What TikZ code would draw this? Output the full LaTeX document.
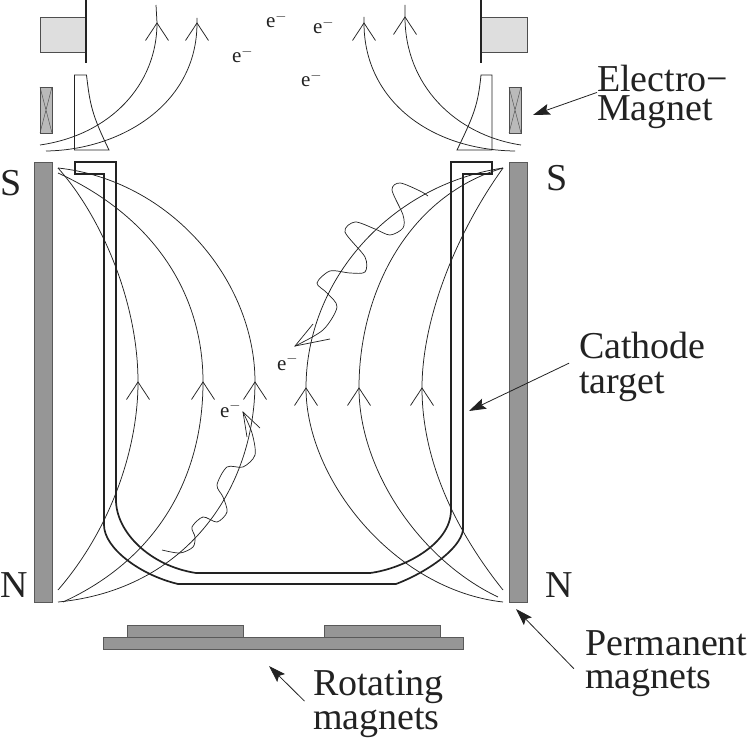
\documentclass[tikz,border=0pt]{standalone}
\usepackage{fontspec}
\setmainfont{Liberation Serif}
\usetikzlibrary{arrows.meta}
\definecolor{ink}{HTML}{222222}
\tikzset{
  magnet/.style={draw=ink!75,line width=.8pt,fill=black!41,inner sep=0,outer sep=0},
  shield/.style={draw=ink!80,line width=.8pt,fill=black!13,inner sep=0,outer sep=0},
  coil/.style={draw=ink!80,line width=.7pt,fill=black!27},
  cathode/.style={draw=ink,line width=1.7pt,line join=miter},
  field/.style={draw=ink,line width=.75pt},
  head/.style={draw=ink,line width=.75pt},
  wave/.style={draw=ink,line width=.7pt},
  bigtext/.style={text=ink,inner sep=0,outer sep=0,anchor=base west,align=left},
  echarge/.style={text=ink,inner sep=0,outer sep=0,anchor=base west,font=\fontsize{21}{24}\selectfont},
  pole/.style={text=ink,inner sep=0,outer sep=0,anchor=base west,font=\fontsize{38}{38}\selectfont},
  callout/.style={draw=ink,line width=.8pt,-{Stealth[length=17pt,width=11pt,inset=3pt]}}
}
\newcommand{\fieldhead}[2]{\draw[head] (#1-11.5,#2+17.5) -- (#1,#2) -- (#1+11.5,#2+17.5);}
\begin{document}
\begin{tikzpicture}[x=1pt,y=-1pt]
\useasboundingbox (0,0) rectangle (750,738);
% upper shields
\draw[shield] (86,17) rectangle (40,52);
\draw[shield] (481,17) rectangle (527,52);
\draw[ink,line width=1.3pt] (86,0) -- (86,63);
\draw[ink,line width=1.3pt] (481,0) -- (481,63);
% electromagnet coils
\draw[coil] (40,87) rectangle (52,133);
\draw[ink!80,line width=.45pt] (40,87) -- (52,133) (52,87) -- (40,133);
\draw[coil] (509,87) rectangle (521,133);
\draw[ink!80,line width=.45pt] (509,87) -- (521,133) (521,87) -- (509,133);
% pole pieces
\draw[ink,line width=.8pt] (74.5,150) -- (74.5,75) -- (86.5,75) .. controls (90,105) and (92,115) .. (109,150) -- cycle;
\draw[ink,line width=.8pt] (492,150) -- (492,75) -- (481,75) .. controls (478,105) and (474,115) .. (457,150) -- cycle;
% permanent magnets
\node[magnet,minimum width=18pt,minimum height=440pt] (magL) at (43,382) {};
\node[magnet,minimum width=18pt,minimum height=440pt] (magR) at (518,382) {};
% rotating magnets
\node[magnet,minimum width=360pt,minimum height=12pt] (base) at (283,643) {};
\node[magnet,minimum width=116pt,minimum height=12pt] (rotL) at (185,631) {};
\node[magnet,minimum width=116pt,minimum height=12pt] (rotR) at (382,631) {};
% cathode target
\draw[cathode] (104,174) -- (75,174) -- (75,162) -- (116,162) -- (116,500)
  .. controls (116,532) and (150,566) .. (196,573) -- (370,573)
  .. controls (402,569) and (451,545) .. (451,510) -- (451,162) -- (492,162) -- (492,174) -- (463,174) -- (463,530)
  .. controls (460,550) and (425,573) .. (396,584) -- (178,584)
  .. controls (140,575) and (104,548) .. (104,525) -- cycle;
% field lines, lower left
\draw[field] (58,168) .. controls (100,215) and (138,300) .. (138,382) .. controls (138,450) and (110,530) .. (58,590);
\draw[field] (58,173) .. controls (150,215) and (203,290) .. (203,382) .. controls (203,480) and (155,560) .. (63,602);
\draw[field] (58,168) .. controls (170,180) and (255,280) .. (255,382) .. controls (255,490) and (185,590) .. (58,602);
% field lines, lower right
\draw[field] (503,168) .. controls (390,185) and (306,280) .. (306,388) .. controls (306,480) and (395,590) .. (503,602);
\draw[field] (503,168) .. controls (410,195) and (359,290) .. (359,388) .. controls (359,470) and (420,560) .. (498,597);
\draw[field] (503,168) .. controls (455,235) and (422,320) .. (422,388) .. controls (422,460) and (455,530) .. (503,590);
\fieldhead{138}{382}\fieldhead{203}{382}\fieldhead{255}{382}
\fieldhead{306}{388}\fieldhead{359}{388}\fieldhead{422}{388}
% field lines, upper
\draw[field] (40,145) .. controls (110,135) and (157,85) .. (157,23) -- (156,5);
\draw[field] (46,151) .. controls (120,150) and (197,105) .. (197,23) -- (197,18);
\draw[field] (405,5) -- (405,17) .. controls (405,85) and (455,135) .. (521,145);
\draw[field] (364,17) -- (364,23) .. controls (364,100) and (430,150) .. (515,151);
\fieldhead{157}{23}\fieldhead{197}{23}\fieldhead{364}{23}\fieldhead{405}{17}
% electron paths
\draw[wave] plot[smooth] coordinates {(428,196) (420,191) (400,183) (392,190) (403,215) (403,228) (390,235) (375,229) (355,222) (345,232) (365,257) (365,272) (350,273) (330,271) (317,283) (327,293) (337,307) (323,330) (295,346)};
\draw[wave] (313,324) -- (295,346) -- (330,339);
\draw[wave] plot[smooth] coordinates {(162,550) (180,553) (193,547) (195,537) (192,527) (203,517) (217,522) (227,512) (223,497) (217,485) (227,467) (243,467) (255,455) (252,433) (243,412)};
\draw[wave] (247,437) -- (243,412) -- (260,428);
% electrons
\node[echarge] (e1) at (266,28) {e$^-$};
\node[echarge] (e2) at (313,34) {e$^-$};
\node[echarge] (e3) at (232,63) {e$^-$};
\node[echarge] (e4) at (301,87) {e$^-$};
\node[echarge] (e5) at (277,370) {e$^-$};
\node[echarge] (e6) at (220,417) {e$^-$};
% poles
\node[pole] (sL) at (1,196) {S};
\node[pole] (sR) at (546,191) {S};
\node[pole] (nL) at (0,597) {N};
\node[pole] (nR) at (545,597) {N};
% labels
\node[bigtext,font=\fontsize{38}{29}\selectfont] (electro) at (597,121) {Electro−\\Magnet};
\node[bigtext,font=\fontsize{38}{35}\selectfont] (cathodel) at (579,393) {Cathode\\target};
\node[bigtext,font=\fontsize{38}{33}\selectfont] (perm) at (585,688) {Permanent\\magnets};
\node[bigtext,font=\fontsize{38}{34}\selectfont] (rot) at (313,729) {Rotating\\magnets};
% callouts
\coordinate (tipE) at (533,115);
\coordinate (tipC) at (469,411);
\coordinate (tipP) at (516,609);
\coordinate (tipR) at (269,666);
\draw[callout] ([yshift=5pt]electro.west) -- (tipE);
\draw[callout,shorten <=11pt] ([yshift=8pt]cathodel.west) -- (tipC);
\draw[callout,shorten <=16pt] ([yshift=-17pt]perm.west) -- (tipP);
\draw[callout,shorten <=12pt] ([yshift=-6pt]rot.west) -- (tipR);
\end{tikzpicture}
\end{document}
